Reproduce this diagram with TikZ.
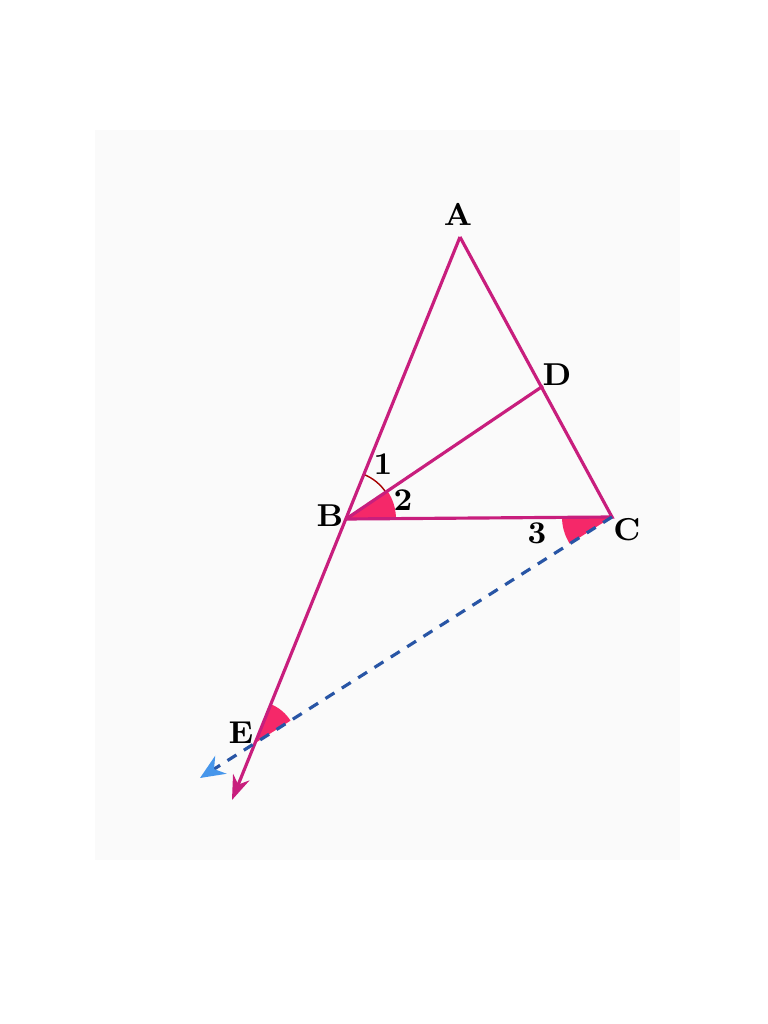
\documentclass[tikz,border=0pt]{standalone}
\usetikzlibrary{arrows.meta, calc}

\definecolor{lijn}{RGB}{200,30,125}
\definecolor{vlak}{RGB}{245,40,105}
\definecolor{stip}{RGB}{40,85,165}
\definecolor{punt}{RGB}{70,150,235}

\tikzset{
	zijde/.style = {lijn, line width = 0.9pt},
	hulp/.style = {stip, line width = 0.9pt, dash pattern = on 3pt off 2.5pt},
	hoek/.style = {vlak},
	letter/.style = {font = \fontsize{9}{10}\selectfont\bfseries, inner sep = 0pt}
}

\begin{document}
\begin{tikzpicture}
	%	canvas
	\useasboundingbox (0, 0) rectangle (7.68, 10.24);
	\fill[black!2] (0.95, 1.64) rectangle (6.80, 8.94);
	
	%	points
	\coordinate (A) at (4.60, 7.87);
	\coordinate (B) at (3.46, 5.05);
	\coordinate (C) at (6.12, 5.07);
	\coordinate (D) at (5.43, 6.38);
	\coordinate (Aend) at (2.32, 2.24);
	\coordinate (Cend) at (2.00, 2.46);
	\coordinate (E) at (intersection of A--Aend and C--Cend);
	
	%	angles
	\fill[hoek] (B) -- ++(0:0.5) arc (0:34:0.5) -- cycle;
	\fill[hoek] (C) -- ++(180:0.5) arc (180:212.3:0.5) -- cycle;
	\fill[hoek] (E) -- ++(32.3:0.42) arc (32.3:68:0.42) -- cycle;
	\draw[red!65!black, thin] ($(B) + (34:0.48)$) arc (34:68:0.48);
	
	%	triangle
	\draw[zijde] (A) -- (C) -- (B);
	\draw[zijde] (B) -- (D);
	\draw[zijde, -{Stealth[length = 7pt, width = 5pt]}] (A) -- (Aend);
	
	%	parallel line through C
	\draw[hulp, -{Stealth[length = 7pt, width = 6pt, punt]}] (C) -- (Cend);
	
	%	labels
	\node[letter] (lA) at (4.58, 8.10) {A};
	\node[letter] (lB) at (3.30, 5.08) {B};
	\node[letter] (lC) at (6.27, 4.94) {C};
	\node[letter] (lD) at (5.57, 6.49) {D};
	\node[letter] (lE) at (2.41, 2.91) {E};
	\node[letter] (l1) at (3.83, 5.60) {1};
	\node[letter] (l2) at (4.03, 5.24) {2};
	\node[letter] (l3) at (5.37, 4.91) {3};
\end{tikzpicture}
\end{document}
